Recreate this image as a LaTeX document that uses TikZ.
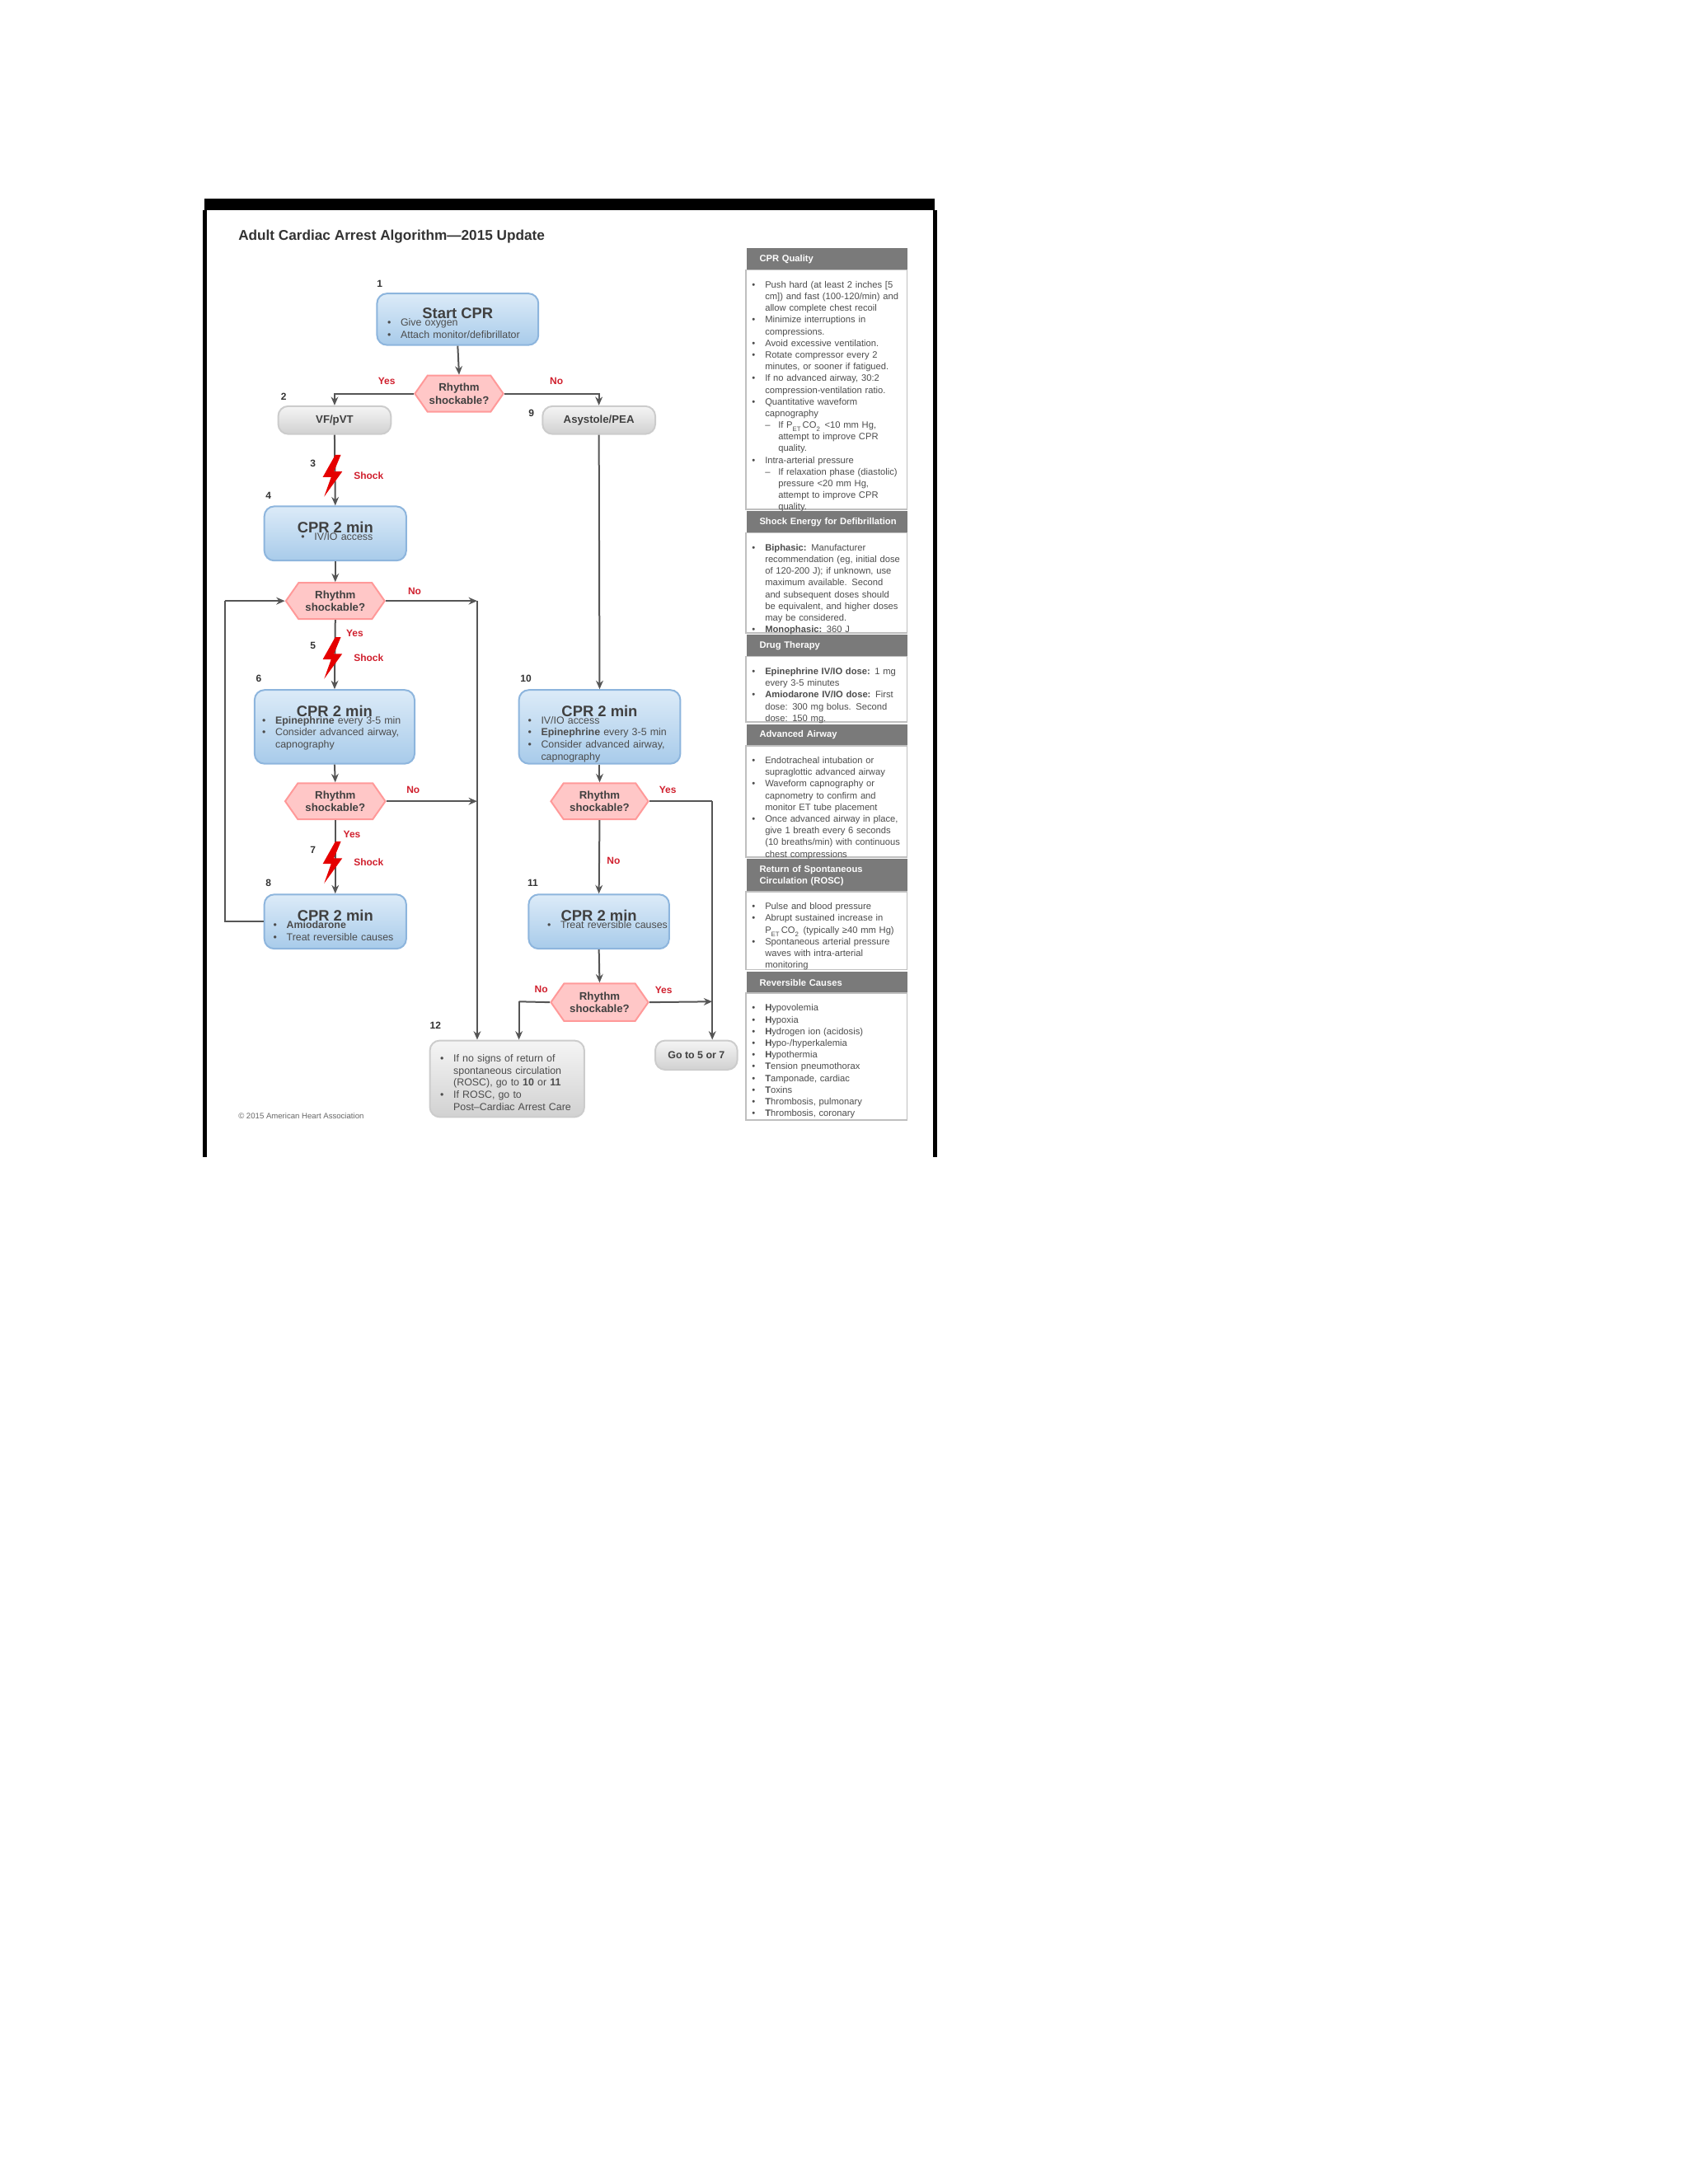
\documentclass[tikz,border=0pt]{standalone}
\usepackage{fontspec}
\setmainfont{Liberation Sans}
\usetikzlibrary{shapes.symbols,arrows.meta}
\definecolor{rd}{HTML}{D0202E}
\definecolor{hd}{HTML}{7A7A7A}
\definecolor{ln}{HTML}{555555}
\definecolor{bd}{HTML}{8DB5DD}
\definecolor{btop}{HTML}{DCEBF8}
\definecolor{bbot}{HTML}{A8CBEA}
\hyphenpenalty=10000
\exhyphenpenalty=10000
\newcommand{\bul}[1]{\par\hangindent=4pt\hangafter=1\noindent\makebox[4pt][l]{•}#1\par}
\newcommand{\sub}[1]{\par\hangindent=8pt\hangafter=1\noindent\hspace*{4pt}\makebox[4pt][l]{–}#1\par}
\newcommand{\fs}{\fontsize{2.8}{3.55}\selectfont}
\begin{document}
\begin{tikzpicture}[x=0.422pt,y=-0.422pt,
  arr/.style={draw=ln,line width=0.5pt,-{Stealth[length=2.6pt,width=2.2pt]}},
  plain/.style={draw=ln,line width=0.5pt},
  bbox/.style={rounded corners=3pt,draw=bd,top color=btop,bottom color=bbot,line width=0.5pt,inner sep=0pt},
  gbox/.style={rounded corners=3pt,draw=black!20,top color=black!4,bottom color=black!18,line width=0.5pt,inner sep=0pt},
  dia/.style={signal,signal to=east and west,signal pointer angle=110,fill=red!22,draw=red!40,line width=0.5pt,inner sep=0.5pt,font=\fontsize{3.3}{3.8}\selectfont\bfseries,align=center,text=black!75},
  num/.style={font=\fontsize{3}{3.5}\selectfont\bfseries,text=black!80},
  yn/.style={font=\fontsize{3}{3.5}\selectfont\bfseries,text=rd},
  ttl/.style={font=\fontsize{4.6}{5.2}\selectfont\bfseries,text=black!75},
  txt/.style={font=\fontsize{3.1}{3.7}\selectfont,text=black!70,align=left,inner sep=0pt},
  sh/.style={fill=hd,font=\fontsize{2.8}{3.4}\selectfont\bfseries,text=white,anchor=north west,inner sep=0pt,text width={116*0.422pt},align=left},
  st/.style={font=\fs,text=black!70,anchor=north west,text width={108*0.422pt},align=left,inner sep=0pt}
]
\useasboundingbox (0,0) rectangle (1213,1570);
% frame
\fill[black] (147,143) rectangle (672,151);
\draw[line width=1.2pt] (147,151)--(147,832) (672,151)--(672,832);
\node[anchor=west,font=\fontsize{4.3}{5}\selectfont\bfseries,text=black!80] (title) at (163,170) {Adult Cardiac Arrest Algorithm—2015 Update};
% boxes
\node[bbox,minimum width={116*0.422pt},minimum height={37*0.422pt}] (b1) at (329,229.5) {};
\node[anchor=north,ttl] (t1) at (329,213) {Start CPR};
\node[anchor=north west,txt,text width={105*0.422pt}] (t1b) at (278,225) {\bul{Give oxygen}\bul{Attach monitor/defibrillator}};
\node[num] (n1) at (273,204) {1};
\node[dia,minimum width={56*0.422pt},minimum height={26*0.422pt}] (d1) at (330,283) {Rhythm\\shockable?};
\node[yn] (y1) at (278,274) {Yes};
\node[yn] (no1) at (400,274) {No};
\node[gbox,minimum width={81*0.422pt},minimum height={20*0.422pt},font=\fontsize{3.3}{4}\selectfont\bfseries,text=black!75] (vf) at (240.5,302) {VF/pVT};
\node[num] (n2) at (204,285) {2};
\node[gbox,minimum width={81*0.422pt},minimum height={20*0.422pt},font=\fontsize{3.3}{4}\selectfont\bfseries,text=black!75] (asy) at (430.5,302) {Asystole/PEA};
\node[num] (n9) at (382,297) {9};
% box4
\node[bbox,minimum width={102*0.422pt},minimum height={39*0.422pt}] (b4) at (241,383.5) {};
\node[anchor=north,ttl] (t4) at (241,367) {CPR 2 min};
\node[anchor=north west,txt,text width={70*0.422pt}] (t4b) at (216,379) {\bul{IV/IO access}};
\node[num] (n4) at (193,356) {4};
\node[dia,minimum width={71*0.422pt},minimum height={26*0.422pt}] (d2) at (241,432) {Rhythm\\shockable?};
\node[yn] (y2) at (255,455) {Yes};
\node[yn] (no2) at (298,425) {No};
% box6
\node[bbox,minimum width={115*0.422pt},minimum height={53*0.422pt}] (b6) at (240.5,522.5) {};
\node[anchor=north,ttl] (t6) at (240.5,499) {CPR 2 min};
\node[anchor=north west,txt,text width={108*0.422pt}] (t6b) at (188,511) {\bul{\textbf{Epinephrine} every 3-5 min}\bul{Consider advanced airway, capnography}};
\node[num] (n6) at (186,488) {6};
\node[dia,minimum width={72*0.422pt},minimum height={26*0.422pt}] (d3) at (241,576) {Rhythm\\shockable?};
\node[yn] (y3) at (253,600) {Yes};
\node[yn] (no3) at (297,568) {No};
% box8
\node[bbox,minimum width={102*0.422pt},minimum height={39*0.422pt}] (b8) at (241,662.5) {};
\node[anchor=north,ttl] (t8) at (241,646) {CPR 2 min};
\node[anchor=north west,txt,text width={95*0.422pt}] (t8b) at (196,658) {\bul{\textbf{Amiodarone}}\bul{Treat reversible causes}};
\node[num] (n8) at (193,635) {8};
% box10
\node[bbox,minimum width={116*0.422pt},minimum height={53*0.422pt}] (b10) at (431,522.5) {};
\node[anchor=north,ttl] (t10) at (431,499) {CPR 2 min};
\node[anchor=north west,txt,text width={108*0.422pt}] (t10b) at (379,511) {\bul{IV/IO access}\bul{\textbf{Epinephrine} every 3-5 min}\bul{Consider advanced airway, capnography}};
\node[num] (n10) at (378,488) {10};
\node[dia,minimum width={70*0.422pt},minimum height={26*0.422pt}] (d4) at (431,576) {Rhythm\\shockable?};
\node[yn] (y4) at (480,568) {Yes};
\node[yn] (no4) at (441,619) {No};
% box11
\node[bbox,minimum width={101*0.422pt},minimum height={39*0.422pt}] (b11) at (430.5,662.5) {};
\node[anchor=north,ttl] (t11) at (430.5,646) {CPR 2 min};
\node[anchor=north west,txt,text width={92*0.422pt}] (t11b) at (393,658) {\bul{Treat reversible causes}};
\node[num] (n11) at (383,635) {11};
\node[dia,minimum width={70*0.422pt},minimum height={27*0.422pt}] (d5) at (431,720.5) {Rhythm\\shockable?};
\node[yn] (no5) at (389,711) {No};
\node[yn] (y5) at (477,712) {Yes};
% box12
\node[gbox,minimum width={111*0.422pt},minimum height={55*0.422pt}] (b12) at (364.5,775.5) {};
\node[anchor=north west,txt,text width={100*0.422pt}] (t12b) at (316,754) {\bul{If no signs of return of spontaneous circulation (ROSC), go to \textbf{10} or \textbf{11}}\bul{If ROSC, go to Post–Cardiac Arrest Care}};
\node[num] (n12) at (313,737) {12};
\node[gbox,minimum width={59*0.422pt},minimum height={21*0.422pt},font=\fontsize{3.1}{4}\selectfont\bfseries,text=black!75] (go) at (500.5,758.5) {Go to 5 or 7};
\node[anchor=west,font=\fontsize{2.4}{3}\selectfont,text=black!60] (copy) at (163,802) {© 2015 American Heart Association};
% coordinates
\coordinate (c1) at (343,432);
\coordinate (c1b) at (343,576);
\coordinate (c2) at (162,432);
\coordinate (c3) at (512,576);
\coordinate (c4) at (512,720);
\coordinate (c5) at (373,720);
% connectors
\draw[arr] (b1.south) -- (d1.north);
\draw[arr] (d1.west) -| (vf.north);
\draw[arr] (d1.east) -| (asy.north);
\draw[arr] (vf.south) -- (b4.north);
\draw[arr] (b4.south) -- (d2.north);
\draw[arr] (d2.east) -- (c1);
\draw[arr] (c1) -- (c1 |- b12.north);
\draw[arr] (d2.south) -- (b6.north);
\draw[arr] (b6.south) -- (d3.north);
\draw[arr] (d3.east) -- (c1b);
\draw[arr] (d3.south) -- (b8.north);
\draw[plain] (b8.west) -| (c2);
\draw[arr] (c2) -- (d2.west);
\draw[arr] (asy.south) -- (b10.north);
\draw[arr] (b10.south) -- (d4.north);
\draw[arr] (d4.south) -- (b11.north);
\draw[plain] (d4.east) -- (c3);
\draw[arr] (c3) -- (c3 |- go.north);
\draw[arr] (b11.south) -- (d5.north);
\draw[arr] (d5.east) -- (c4);
\draw[plain] (d5.west) -- (c5);
\draw[arr] (c5) -- (c5 |- b12.north);
% bolts
\foreach \bx/\by/\nm in {239/342/3,239/473/5,239/620/7}{
  \fill[red!90!black,shift={(\bx,\by)}] (2,-15)--(-7,1)--(-1,1)--(-6,15)--(7,-3)--(1,-3)--(6,-15)--cycle;
  \node[num] at (\bx-14,\by-9) {\nm};
  \node[yn] at (\bx+26,\by) {Shock};
}
% sidebar
\node[sh,minimum height={16*0.422pt}] (h1) at (536,178) {\hspace*{4pt}CPR Quality};
\draw[draw=black!25,line width=0.4pt] (536,194) rectangle (652,366);
\node[st] (s1) at (540,198) {\bul{Push hard (at least 2 inches [5 cm]) and fast (100-120/min) and allow complete chest recoil}\bul{Minimize interruptions in compressions.}\bul{Avoid excessive ventilation.}\bul{Rotate compressor every 2 minutes, or sooner if fatigued.}\bul{If no advanced airway, 30:2 compression-ventilation ratio.}\bul{Quantitative waveform capnography}\sub{If P\textsubscript{ET}CO\textsubscript{2} <10 mm Hg, attempt to improve CPR quality.}\bul{Intra-arterial pressure}\sub{If relaxation phase (diastolic) pressure <20 mm Hg, attempt to improve CPR quality.}};
\node[sh,minimum height={16*0.422pt}] (h2) at (536,367) {\hspace*{4pt}Shock Energy for Defibrillation};
\draw[draw=black!25,line width=0.4pt] (536,383) rectangle (652,455);
\node[st] (s2) at (540,387) {\bul{\textbf{Biphasic:} Manufacturer recommendation (eg, initial dose of 120-200 J); if unknown, use maximum available. Second and subsequent doses should be equivalent, and higher doses may be considered.}\bul{\textbf{Monophasic:} 360 J}};
\node[sh,minimum height={16*0.422pt}] (h3) at (536,456) {\hspace*{4pt}Drug Therapy};
\draw[draw=black!25,line width=0.4pt] (536,472) rectangle (652,519);
\node[st] (s3) at (540,476) {\bul{\textbf{Epinephrine IV/IO dose:} 1 mg every 3-5 minutes}\bul{\textbf{Amiodarone IV/IO dose:} First dose: 300 mg bolus. Second dose: 150 mg.}};
\node[sh,minimum height={16*0.422pt}] (h4) at (536,520) {\hspace*{4pt}Advanced Airway};
\draw[draw=black!25,line width=0.4pt] (536,536) rectangle (652,616);
\node[st] (s4) at (540,540) {\bul{Endotracheal intubation or supraglottic advanced airway}\bul{Waveform capnography or capnometry to confirm and monitor ET tube placement}\bul{Once advanced airway in place, give 1 breath every 6 seconds (10 breaths/min) with continuous chest compressions}};
\node[sh,minimum height={24*0.422pt}] (h5) at (536,617) {\hspace*{4pt}\parbox{40pt}{Return of Spontaneous Circulation (ROSC)}};
\draw[draw=black!25,line width=0.4pt] (536,641) rectangle (652,697);
\node[st] (s5) at (540,645) {\bul{Pulse and blood pressure}\bul{Abrupt sustained increase in P\textsubscript{ET}CO\textsubscript{2} (typically ≥40 mm Hg)}\bul{Spontaneous arterial pressure waves with intra-arterial monitoring}};
\node[sh,minimum height={16*0.422pt}] (h6) at (536,698) {\hspace*{4pt}Reversible Causes};
\draw[draw=black!25,line width=0.4pt] (536,714) rectangle (652,805);
\node[st] (s6) at (540,718) {\bul{\textbf{H}ypovolemia}\bul{\textbf{H}ypoxia}\bul{\textbf{H}ydrogen ion (acidosis)}\bul{\textbf{H}ypo-/hyperkalemia}\bul{\textbf{H}ypothermia}\bul{\textbf{T}ension pneumothorax}\bul{\textbf{T}amponade, cardiac}\bul{\textbf{T}oxins}\bul{\textbf{T}hrombosis, pulmonary}\bul{\textbf{T}hrombosis, coronary}};
\end{tikzpicture}
\end{document}
